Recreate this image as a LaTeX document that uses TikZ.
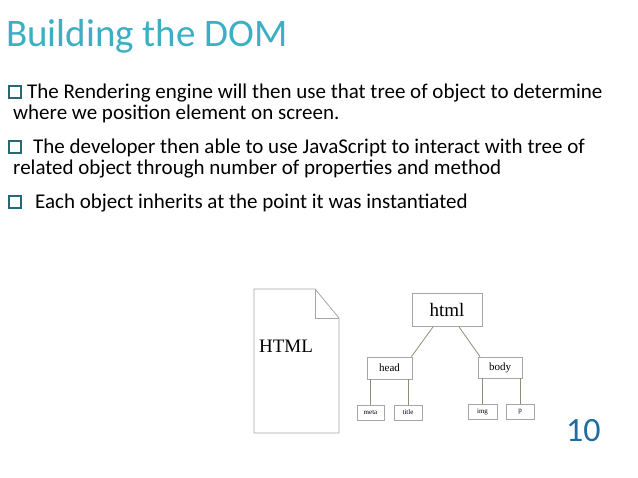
\documentclass[tikz,border=0pt]{standalone}
\usepackage{fontspec}
\setmainfont{Carlito}
\newfontfamily\serifx{Liberation Serif}
\definecolor{teal}{HTML}{3DAFC4}
\definecolor{num}{HTML}{1F6D9E}
\begin{document}
\begin{tikzpicture}[x=1pt,y=-1pt,
  bx/.style={draw=gray!70,line width=0.8pt,inner sep=0pt,font=\serifx},
  ln/.style={draw=gray!80!olive,line width=0.8pt},
  txt/.style={anchor=base west,inner sep=0pt,font=\fontsize{21}{24}\selectfont},
  chk/.style={draw=teal!60!black,line width=1.3pt,fill=white,minimum size=12pt,inner sep=0pt}]
\useasboundingbox (0,0) rectangle (638,478);
\node[anchor=base west,inner sep=0pt,text=teal,font=\fontsize{39}{44}\selectfont] (t) at (6,47) {Building the DOM};
\node[chk] (c1) at (15,92) {};
\node[chk] (c2) at (15,147) {};
\node[chk] (c3) at (15,202) {};
\node[txt] (l1) at (27,99) {The Rendering engine will then use that tree of object to determine};
\node[txt] (l1b) at (13,120) {where we position element on screen.};
\node[txt] (l2) at (33,154) {The developer then able to use JavaScript to interact with tree of};
\node[txt] (l2b) at (13,175) {related object through number of properties and method};
\node[txt] (l3) at (35,209) {Each object inherits at the point it was instantiated};
% document
\draw[bx] (254,289) -- (315,289) -- (339,318) -- (339,433) -- (254,433) -- cycle;
\draw[bx] (315,289) -- (315,318) -- (339,318);
\node[font=\serifx\fontsize{19}{22}\selectfont,inner sep=0pt] (h) at (286,346) {HTML};
% tree
\node[bx,minimum width=70pt,minimum height=33pt,font=\serifx\fontsize{19}{22}\selectfont] (html) at (447,310) {html};
\node[bx,minimum width=45pt,minimum height=22pt,font=\serifx\fontsize{11}{13}\selectfont] (head) at (389.5,368) {head};
\node[bx,minimum width=44pt,minimum height=21pt,font=\serifx\fontsize{11}{13}\selectfont] (body) at (500,367.5) {body};
\node[bx,minimum width=27pt,minimum height=15pt,font=\serifx\fontsize{7}{8}\selectfont] (meta) at (370.5,412.5) {meta};
\node[bx,minimum width=28pt,minimum height=15pt,font=\serifx\fontsize{7}{8}\selectfont] (title) at (408,412.5) {title};
\node[bx,minimum width=29pt,minimum height=15pt,font=\serifx\fontsize{7}{8}\selectfont] (img) at (482.5,411.5) {img};
\node[bx,minimum width=28pt,minimum height=15pt,font=\serifx\fontsize{7}{8}\selectfont] (p) at (520,411.5) {p};
\draw[ln] ([xshift=-14pt]html.south) -- ([xshift=22pt]head.north);
\draw[ln] ([xshift=12pt]html.south) -- ([xshift=-20pt]body.north);
\draw[ln] (head.south -| meta) -- (meta.north);
\draw[ln] (head.south -| title) -- (title.north);
\draw[ln] (body.south -| img) -- (img.north);
\draw[ln] (body.south -| p) -- (p.north);
\node[anchor=base west,inner sep=0pt,text=num,font=\fontsize{34}{38}\selectfont] (n) at (566,442) {10};
\end{tikzpicture}
\end{document}
